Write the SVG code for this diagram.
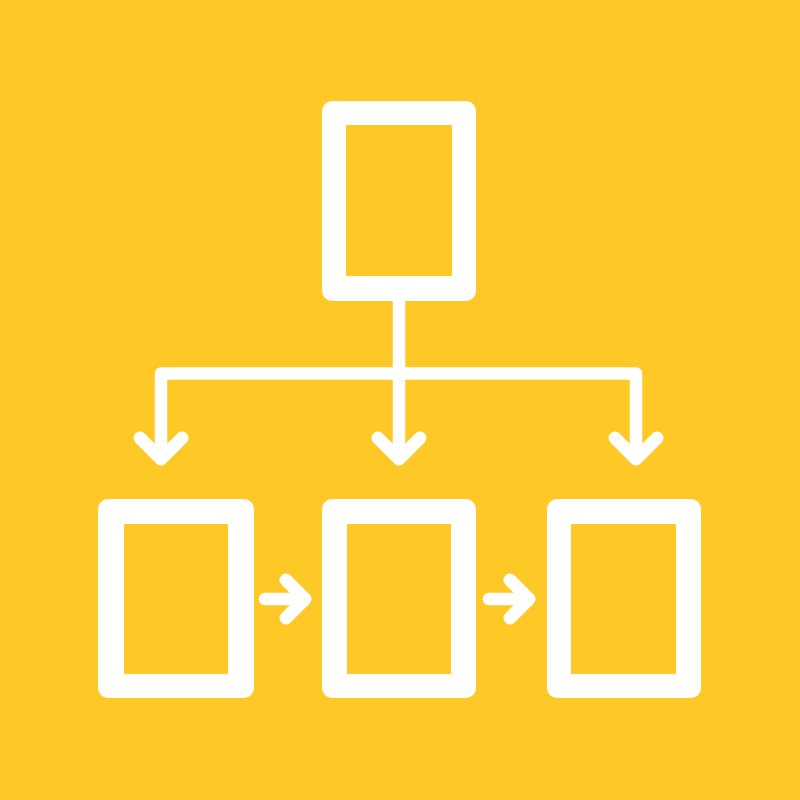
<svg xmlns="http://www.w3.org/2000/svg" width="800" height="800" viewBox="0 0 800 800">
<defs>
<style>
.box{fill:#ffffff;fill-rule:evenodd}
.line{fill:none;stroke:#ffffff;stroke-width:12.5;stroke-linecap:round;stroke-linejoin:round}
.head{fill:none;stroke:#ffffff;stroke-width:13;stroke-linecap:round;stroke-linejoin:round}
</style>
</defs>
<rect x="0" y="0" width="800" height="800" fill="#fec926"/>
<g id="connectors">
<path class="line" d="M399,300 V457"/>
<path class="line" d="M161,457 V373.5 H636 V457"/>
<polyline class="head" points="140,438 161,459 182,438"/>
<polyline class="head" points="378,438 399,459 420,438"/>
<polyline class="head" points="615,438 636,459 657,438"/>
<path class="line" d="M265,599 H303"/>
<polyline class="head" points="286,580 305,599 286,618"/>
<path class="line" d="M489,599 H527"/>
<polyline class="head" points="510,580 529,599 510,618"/>
</g>
<g id="node-top">
<path class="box" d="M332,101 H466 A10,10 0 0 1 476,111 V291 A10,10 0 0 1 466,301 H332 A10,10 0 0 1 322,291 V111 A10,10 0 0 1 332,101 Z M346,125 V276 H452 V125 Z"/>
</g>
<g id="node-left">
<path class="box" d="M108,499 H244 A10,10 0 0 1 254,509 V688 A10,10 0 0 1 244,698 H108 A10,10 0 0 1 98,688 V509 A10,10 0 0 1 108,499 Z M124,524 V674 H228 V524 Z"/>
</g>
<g id="node-middle">
<path class="box" d="M332,499 H466 A10,10 0 0 1 476,509 V688 A10,10 0 0 1 466,698 H332 A10,10 0 0 1 322,688 V509 A10,10 0 0 1 332,499 Z M347,524 V674 H451 V524 Z"/>
</g>
<g id="node-right">
<path class="box" d="M557,499 H691 A10,10 0 0 1 701,509 V688 A10,10 0 0 1 691,698 H557 A10,10 0 0 1 547,688 V509 A10,10 0 0 1 557,499 Z M571,524 V674 H676 V524 Z"/>
</g>
</svg>
